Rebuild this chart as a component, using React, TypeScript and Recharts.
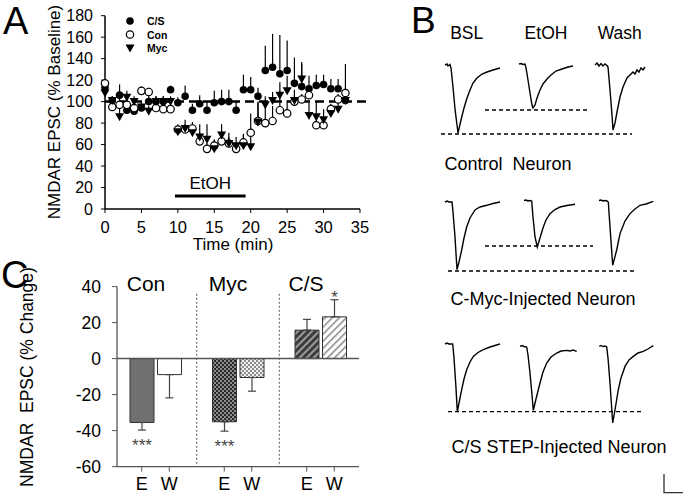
import React from 'react'
import {
  ScatterChart, Scatter, ComposedChart, Bar, Cell, LineChart, Line,
  XAxis, YAxis, ErrorBar, ReferenceLine, LabelList,
} from 'recharts'

const FONT = '"Liberation Sans", Arial, Helvetica, sans-serif'

// ---------- Panel A: EPSC time course (% baseline) ----------
const minutes = [0, 1, 2, 3, 4, 5, 6, 7, 8, 9, 10, 11, 12, 13, 14, 15, 16, 17, 18, 19, 20, 21, 22, 23, 24, 25, 26, 27, 28, 29, 30, 31, 32, 33]
const csMean = [113, 101, 106, 92, 91, 94, 100, 100, 100, 111, 99, 105, 92, 98, 92, 99, 100, 100, 92, 111, 111, 105, 129, 132, 126, 129, 117, 114, 112, 115, 116, 112, 112, 101]
const csSem = [3, 4, 10, 6, 5, 5, 8, 5, 5, 4, 5, 10, 6, 8, 8, 11, 11, 11, 8, 14, 12, 8, 23, 31, 36, 28, 24, 23, 12, 10, 9, 9, 9, 34]
const conMean = [117, 95, 97, 97, 94, 110, 109, 94, 93, 93, 74, 74, 75, 63, 56, 59, 63, 61, 56, 62, 71, 82, 80, 82, 92, 89, 100, 102, 106, 78, 78, 93, 102, 108]
const conSem = [3, 3, 4, 4, 4, 4, 4, 4, 3, 3, 5, 5, 6, 8, 6, 6, 7, 6, 6, 8, 18, 18, 15, 14, 18, 12, 6, 5, 5, 6, 6, 5, 5, 5]
const mycMean = [108, 101, 86, 104, 100, 95, 91, 100, 100, 100, 72, 75, 71, 67, 65, 56, 69, 61, 59, 59, 58, 81, 97, 101, 106, 110, 101, 121, 87, 86, 83, 89, 93, 101]
const mycSem = [4, 4, 17, 6, 5, 5, 5, 5, 5, 5, 5, 8, 8, 12, 14, 8, 10, 10, 8, 10, 14, 18, 8, 8, 12, 14, 10, 14, 12, 14, 10, 8, 6, 5]
const timeTicks = [0, 5, 10, 15, 20, 25, 30, 35]
const pctTicks = [0, 20, 40, 60, 80, 100, 120, 140, 160, 180]
const legendNames = ['C/S', 'Con', 'Myc']

// ---------- Panel C: % change during EtOH (E) and washout (W) ----------
const groupNames = ['Con', 'Myc', 'C/S']
const phaseLabels = ['E', 'W', 'E', 'W', 'E', 'W']
const slotPos = [1, 2, 4, 5, 7, 8]
const changeMean = [-35.5, -8.9, -35.1, -10.5, 15.8, 23.2]
const changeSem = [4.2, 12.9, 5.2, 7.6, 6, 9.5]
const sigMarks = ['***', '', '***', '', '', '*']
const changeTicks = [-60, -40, -20, 0, 20, 40]
const barFills = ['#707070', '#ffffff', 'url(#chkDark)', 'url(#chkLight)', 'url(#hatchDark)', 'url(#hatchLight)']

// ---------- Panel B: example EPSC traces, [time, amplitude] ----------
const ctrlBsl = [[5, 0], [7, 1], [8, -1], [10, 0.5], [11, -3], [13, -22], [15, -44], [18, -68], [21, -55], [24, -43], [27, -33], [30, -25], [33, -18], [37, -13], [42, -9], [47, -7], [53, -5], [60, -3]]
const ctrlEtoh = [[79, 1], [81, 1.5], [83, 0.5], [85, 1], [86, -3], [88, -15], [90, -28], [92, -40], [93, -43], [95, -40], [97, -33], [100, -25], [103, -19], [107, -14], [111, -10], [116, -6], [122, -4], [128, -2], [133, -1]]
const ctrlWash = [[155, 0], [157, 2], [159, -1], [161, 1.5], [163, -1], [165, 1], [167, -0.5], [168, -2], [170, -25], [172, -50], [173, -65], [175, -58], [177, -47], [180, -32], [183, -22], [187, -13], [190, -10], [193, -7], [195, -9], [197, -5], [199, -7], [201, -3], [203, -5], [205, -2]]
const mycBsl = [[5, 0], [7, 1], [9, 0], [12, 0], [13, -10], [15, -35], [17, -67.6], [19, -60], [21.7, -48], [24, -36], [26.7, -25], [30, -16], [35, -8], [40, -5], [46.7, -3.3], [53, -1.5], [60, 0]]
const mycEtoh = [[84, 1.5], [86, 2], [88, 1], [90, 1.5], [91.7, 1], [93, -15], [95, -35], [97.3, -45], [100, -36], [103.3, -25], [106, -18], [110, -11.6], [115, -7.5], [120, -5], [127, -3.5], [135, -2.3]]
const mycWash = [[159, 1.5], [161, 2], [163, 1], [165, 1.5], [167, 1], [168.3, 0], [170, -25], [172.7, -63.3], [176.7, -48], [180, -31.6], [185, -19], [190, -11.6], [195, -7], [200, -3.3], [206, -2], [213.3, 0.7]]
const csBsl = [[5, -1], [7, 0], [9, -1], [12.7, -1], [14, -15], [16, -45], [17.3, -69], [19, -60], [21.7, -46.7], [24, -36], [26.7, -26.7], [30, -19], [33.3, -13.4], [38, -9.5], [43.3, -6.7], [50, -4], [55, -2.5], [60, -1]]
const csEtoh = [[80, -3.4], [82, -2.5], [84, -3.5], [86.7, -4], [88, -12], [90, -30], [92, -52], [93.3, -67.4], [96, -56], [100, -40], [103, -29], [106.7, -20], [111, -14], [116.7, -10], [121, -8], [126.7, -7.4], [130, -8], [133, -7], [136.7, -8.4]]
const csWash = [[159.3, -3.4], [161, -2.5], [163, -3.6], [165, -3], [166.7, -4], [168, -15], [170, -40], [172.7, -80], [175, -67], [178.3, -46.7], [181, -35], [185, -23.4], [189, -17], [193.3, -13.4], [198, -10], [203.3, -8.4], [208, -6], [213.3, -2.7]]
const traceTitles = ['BSL', 'EtOH', 'Wash']
const rowTitles = ['Control  Neuron', 'C-Myc-Injected Neuron', 'C/S STEP-Injected Neuron']

// layout for the trace rows (chart top, dashed peak markers as [level, from, to])
const traceRows = [
  { top: 55, traces: [ctrlBsl, ctrlEtoh, ctrlWash], dashes: [[-45, 45, 149], [-69, 1, 192]] },
  { top: 191.7, traces: [mycBsl, mycEtoh, mycWash], dashes: [[-44, 45, 153], [-69, 8, 197]] },
  { top: 333.3, traces: [csBsl, csEtoh, csWash], dashes: [[-68.7, 8, 203]] },
]

const toRows = (mean: number[], sem: number[]) =>
  minutes.map((t, i) => ({ t, v: mean[i], err: [0, sem[i]] }))

const csRows = toRows(csMean, csSem)
const conRows = toRows(conMean, conSem)
const mycRows = toRows(mycMean, mycSem)

const barRows = phaseLabels.map((p, i) => ({
  x: slotPos[i],
  v: changeMean[i],
  err: changeMean[i] < 0 ? [changeSem[i], 0] : [0, changeSem[i]],
  sig: sigMarks[i],
}))

const FilledDot = (props: any) => <circle cx={props.cx} cy={props.cy} r={3.8} fill="#000" />
const OpenDot = (props: any) => <circle cx={props.cx} cy={props.cy} r={3.7} fill="#fff" stroke="#000" strokeWidth={1.2} />
const DownTri = (props: any) => {
  const { cx, cy } = props
  return <path d={`M${cx - 4.5},${cy - 3.5}L${cx + 4.5},${cy - 3.5}L${cx},${cy + 4.5}Z`} fill="#000" />
}
const markers = [FilledDot, OpenDot, DownTri]

const tickStyle = { fill: '#000', fontSize: 16, fontFamily: FONT }

function TimeCourse() {
  return (
    <div style={{ position: 'absolute', left: 0, top: 0 }}>
      <ScatterChart width={370} height={260} margin={{ top: 15.7, right: 10, bottom: 21, left: 0 }}>
        <XAxis
          type="number" dataKey="t" domain={[0, 35]} ticks={timeTicks} height={30} interval={0}
          tick={{ ...tickStyle, fontSize: 16.5 }} tickSize={4} tickMargin={8}
          axisLine={{ stroke: '#000', strokeWidth: 1.5 }} tickLine={{ stroke: '#000' }}
        />
        <YAxis
          type="number" dataKey="v" domain={[0, 180]} ticks={pctTicks} width={105} interval={0}
          tick={tickStyle} tickSize={4} tickMargin={8}
          axisLine={{ stroke: '#000', strokeWidth: 1.5 }} tickLine={{ stroke: '#000' }}
        />
        <ReferenceLine
          segment={[{ x: 0, y: 100 }, { x: 36.3, y: 100 }]} ifOverflow="visible"
          stroke="#000" strokeWidth={2.5} strokeDasharray="9 5"
        />
        <ReferenceLine
          segment={[{ x: 9.6, y: 12 }, { x: 19.3, y: 12 }]} stroke="#000" strokeWidth={3}
          label={{ value: 'EtOH', position: 'top', offset: 7, fill: '#000', fontSize: 17, fontFamily: FONT }}
        />
        <Scatter data={csRows} dataKey="v" shape={FilledDot} isAnimationActive={false}>
          <ErrorBar dataKey="err" direction="y" width={0} stroke="#000" strokeWidth={1.2} />
        </Scatter>
        <Scatter data={conRows} dataKey="v" shape={OpenDot} isAnimationActive={false}>
          <ErrorBar dataKey="err" direction="y" width={0} stroke="#000" strokeWidth={1.2} />
        </Scatter>
        <Scatter data={mycRows} dataKey="v" shape={DownTri} isAnimationActive={false}>
          <ErrorBar dataKey="err" direction="y" width={0} stroke="#000" strokeWidth={1.2} />
        </Scatter>
      </ScatterChart>
    </div>
  )
}

const PX_PER_UNIT = 180 / 100

const renderSig = (props: any) => {
  const { x, y, width, height, value, index } = props
  if (!value) return null
  const cx = Number(x) + Number(width) / 2
  const top = Math.min(Number(y), Number(y) + Number(height))
  const bottom = Math.max(Number(y), Number(y) + Number(height))
  const errPx = changeSem[index] * PX_PER_UNIT
  const ty = changeMean[index] < 0 ? bottom + errPx + 21 : top - errPx + 3
  return (
    <text x={cx} y={ty} textAnchor="middle" fontSize={17} fill="#444" fontFamily={FONT}>{value}</text>
  )
}

function ChangeBars() {
  return (
    <div style={{ position: 'absolute', left: 0, top: 260 }}>
      <ComposedChart width={370} height={240} data={barRows} margin={{ top: 26.6, right: 11, bottom: 0, left: 0 }}>
        <defs>
          <pattern id="chkDark" width="4" height="4" patternUnits="userSpaceOnUse">
            <rect width="4" height="4" fill="#2a2a2a" />
            <rect width="2" height="2" fill="#8c8c8c" />
            <rect x="2" y="2" width="2" height="2" fill="#8c8c8c" />
          </pattern>
          <pattern id="chkLight" width="4" height="4" patternUnits="userSpaceOnUse">
            <rect width="4" height="4" fill="#f2f2f2" />
            <rect width="2" height="2" fill="#8a8a8a" />
            <rect x="2" y="2" width="2" height="2" fill="#8a8a8a" />
          </pattern>
          <pattern id="hatchDark" width="5" height="5" patternUnits="userSpaceOnUse" patternTransform="rotate(45)">
            <rect width="5" height="5" fill="#3c3c3c" />
            <rect width="2" height="5" fill="#9a9a9a" />
          </pattern>
          <pattern id="hatchLight" width="5" height="5" patternUnits="userSpaceOnUse" patternTransform="rotate(45)">
            <rect width="5" height="5" fill="#ffffff" />
            <rect width="1.5" height="5" fill="#8a8a8a" />
          </pattern>
        </defs>
        <XAxis
          type="number" dataKey="x" domain={[0.1, 8.9]} ticks={slotPos} height={33.4} interval={0}
          tickFormatter={(v: number) => phaseLabels[slotPos.indexOf(v)]}
          tick={{ ...tickStyle, fontSize: 18 }} tickSize={5} tickMargin={6}
          axisLine={{ stroke: '#555', strokeWidth: 1.3 }} tickLine={{ stroke: '#555' }}
        />
        <YAxis
          type="number" domain={[-60, 40]} ticks={changeTicks} width={117} interval={0}
          tick={{ ...tickStyle, fontSize: 17.5 }} tickSize={5} tickMargin={11}
          axisLine={{ stroke: '#555', strokeWidth: 1.3 }} tickLine={{ stroke: '#555' }}
        />
        <ReferenceLine y={0} stroke="#555" strokeWidth={1.5} />
        {[3, 6].map(s => (
          <ReferenceLine
            key={s} segment={[{ x: s, y: 36 }, { x: s, y: -60 }]}
            stroke="#555" strokeWidth={1} strokeDasharray="2 2"
          />
        ))}
        <Bar dataKey="v" barSize={24} stroke="#333" strokeWidth={1} isAnimationActive={false}>
          {barRows.map((r, i) => <Cell key={i} fill={barFills[i]} />)}
          <ErrorBar dataKey="err" direction="y" width={4} stroke="#444" strokeWidth={1.2} />
          <LabelList dataKey="sig" content={renderSig} />
        </Bar>
      </ComposedChart>
    </div>
  )
}

function TraceRow({ top, traces, dashes }: { top: number; traces: number[][][]; dashes: number[][] }) {
  return (
    <div style={{ position: 'absolute', left: 440, top }}>
      <LineChart width={230} height={100} margin={{ top: 0, right: 0, bottom: 0, left: 0 }}>
        <XAxis type="number" dataKey="t" domain={[0, 230]} hide />
        <YAxis type="number" domain={[-90, 10]} hide />
        {dashes.map(([level, from, to], i) => (
          <ReferenceLine
            key={i} segment={[{ x: from, y: level }, { x: to, y: level }]}
            stroke="#000" strokeWidth={1.3} strokeDasharray="4 3"
          />
        ))}
        {traces.map((tr, i) => (
          <Line
            key={i} data={tr.map(([t, v]) => ({ t, v }))} dataKey="v" type="linear"
            stroke="#000" strokeWidth={1.4} dot={false} isAnimationActive={false}
          />
        ))}
      </LineChart>
    </div>
  )
}

function Annotations() {
  const txt = { fontFamily: FONT, fill: '#000' }
  return (
    <svg width={685} height={500} style={{ position: 'absolute', left: 0, top: 0, pointerEvents: 'none' }}>
      {/* panel letters */}
      <text x={3} y={34} fontSize={38} {...txt}>A</text>
      <text x={411} y={33} fontSize={37} {...txt}>B</text>
      <text x={1} y={288} fontSize={38} {...txt}>C</text>

      {/* panel A titles + legend */}
      <text transform="translate(60,112) rotate(-90)" textAnchor="middle" fontSize={17} {...txt}>NMDAR EPSC (% Baseline)</text>
      <text x={233} y={250} textAnchor="middle" fontSize={17} {...txt}>Time (min)</text>
      {legendNames.map((name, i) => {
        const Marker = markers[i]
        const y = 21 + i * 13.5
        return (
          <g key={name}>
            <Marker cx={130} cy={y} />
            <text x={147} y={y + 4} fontSize={10.5} fontWeight="bold" {...txt}>{name}</text>
          </g>
        )
      })}

      {/* panel C titles */}
      <text transform="translate(33,377) rotate(-90)" textAnchor="middle" fontSize={17.5} style={{ whiteSpace: 'pre' }} {...txt}>NMDAR  EPSC (% Change)</text>
      {groupNames.map((g, i) => (
        <text key={g} x={[146, 228, 306][i]} y={291} textAnchor="middle" fontSize={21} {...txt}>{g}</text>
      ))}

      {/* panel B labels */}
      {traceTitles.map((t, i) => (
        <text key={t} x={[466.7, 546, 619.7][i]} y={39} textAnchor="middle" fontSize={17.5} {...txt}>{t}</text>
      ))}
      {rowTitles.map((t, i) => (
        <text key={t} x={[508, 543, 559][i]} y={[169.5, 304.5, 452.5][i]} textAnchor="middle" fontSize={18} style={{ whiteSpace: 'pre' }} {...txt}>{t}</text>
      ))}
      <path d="M664,474V492.7H683" fill="none" stroke="#333" strokeWidth={1.3} />
    </svg>
  )
}

export default function App() {
  return (
    <div style={{ position: 'absolute', left: 0, top: 0, width: 685, height: 500, background: '#fff', fontFamily: FONT, overflow: 'hidden' }}>
      <TimeCourse />
      {traceRows.map((r, i) => <TraceRow key={i} top={r.top} traces={r.traces} dashes={r.dashes} />)}
      <ChangeBars />
      <Annotations />
    </div>
  )
}
